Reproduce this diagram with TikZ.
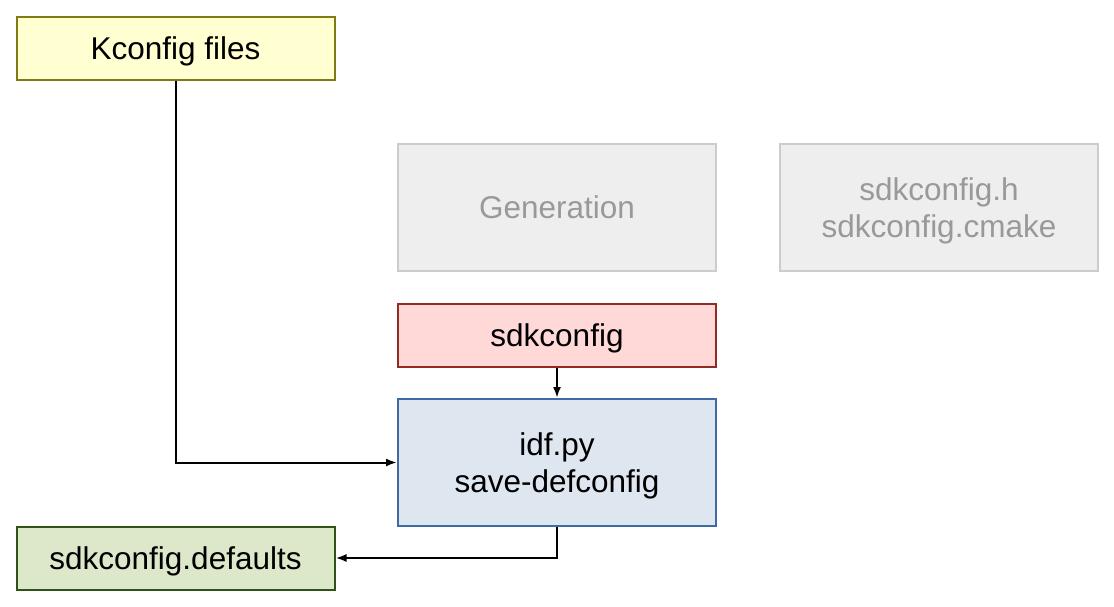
\documentclass[tikz,border=0pt]{standalone}
\usepackage{fontspec}
\setmainfont{Liberation Sans}
\usepackage{xcolor}
\usetikzlibrary{positioning,arrows.meta}

\definecolor{kfill}{HTML}{FFFFD2}
\definecolor{kdraw}{HTML}{7F7A12}
\definecolor{sfill}{HTML}{FFD8D8}
\definecolor{sdraw}{HTML}{922B23}
\definecolor{ifill}{HTML}{DEE6F0}
\definecolor{idraw}{HTML}{3E6AA6}
\definecolor{dfill}{HTML}{DDE8CB}
\definecolor{ddraw}{HTML}{2F5219}
\definecolor{gfill}{HTML}{EEEEEE}
\definecolor{gdraw}{HTML}{CCCCCC}
\definecolor{gtext}{HTML}{999999}

\tikzset{
    box/.style={draw, line width=2pt, minimum width=318pt, align=center,
        font=\fontsize{31.5}{37.5}\selectfont, inner sep=0pt, text depth=0pt},
    low/.style={box, minimum height=63pt},
    tall/.style={box, minimum height=127pt},
    conn/.style={line width=2pt, -{Latex[length=11pt,width=8pt]}}
}

\begin{document}
\begin{tikzpicture}[x=1pt, y=-1pt]
    \useasboundingbox (0,0) rectangle (1114,606);

    % Inputs
    \node[low, fill=kfill, draw=kdraw] (kconfig) at (175.5,48.5) {Kconfig files};
    \node[low, fill=sfill, draw=sdraw] (sdkcfg) at (557,335) {sdkconfig};

    % Greyed out
    \node[tall, fill=gfill, draw=gdraw, text=gtext] (gen) at (557,207.5) {Generation};
    \node[tall, fill=gfill, draw=gdraw, text=gtext] (hdr) at (939,207.5) {sdkconfig.h\\sdkconfig.cmake};

    % Tool and output
    \node[tall, fill=ifill, draw=idraw] (idf) at (557,462.5) {idf.py\\save-defconfig};
    \node[low, fill=dfill, draw=ddraw] (defaults) at (175.5,558) {sdkconfig.defaults};

    % Arrows
    \draw[conn] (kconfig.south) |- (idf.west);
    \draw[conn] (sdkcfg.south) -- (idf.north);
    \draw[conn] (idf.south) |- (defaults.east);
\end{tikzpicture}
\end{document}
